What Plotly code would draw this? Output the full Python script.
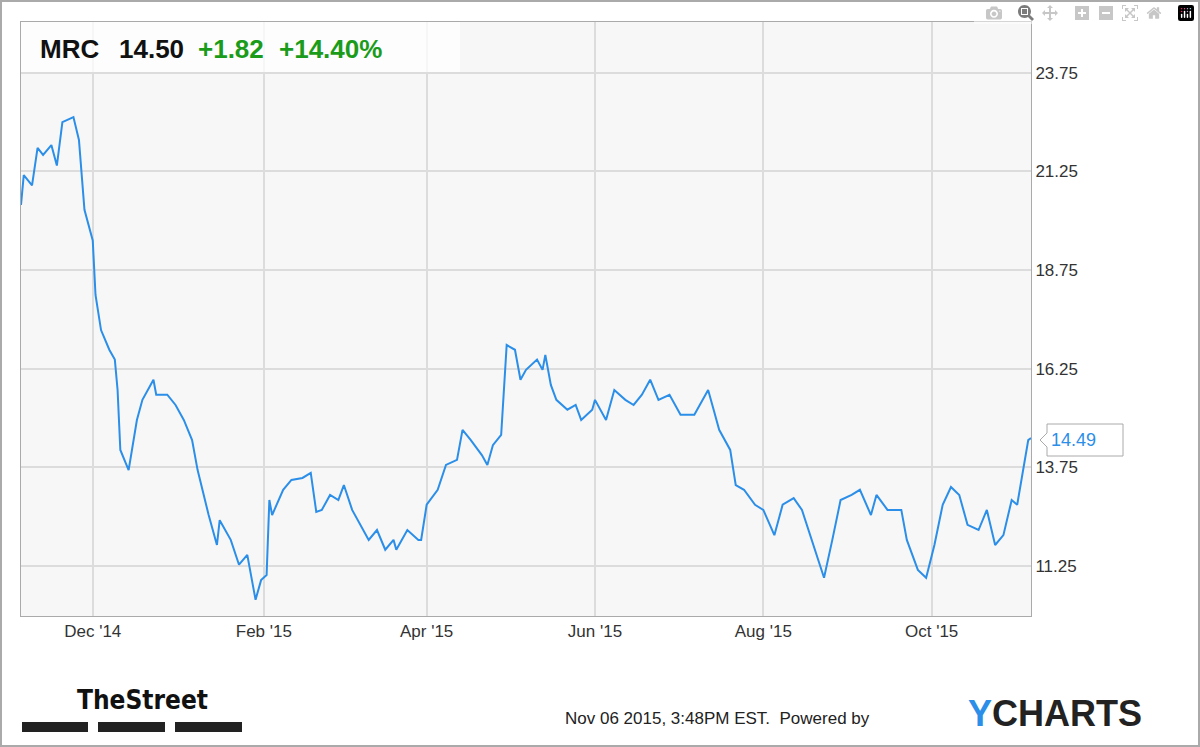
import plotly.graph_objects as go

dates = ["2014-11-05","2014-11-06","2014-11-09","2014-11-11","2014-11-13","2014-11-16","2014-11-18","2014-11-19","2014-11-20","2014-11-24","2014-11-26","2014-11-28",
"2014-12-01","2014-12-02","2014-12-04","2014-12-07","2014-12-09","2014-12-10","2014-12-11","2014-12-14","2014-12-17","2014-12-19","2014-12-23","2014-12-24","2014-12-28","2014-12-31",
"2015-01-03","2015-01-06","2015-01-08","2015-01-12","2015-01-15","2015-01-16","2015-01-20","2015-01-23","2015-01-26","2015-01-29","2015-01-31",
"2015-02-02","2015-02-03","2015-02-04","2015-02-08","2015-02-11","2015-02-15","2015-02-18","2015-02-20","2015-02-22","2015-02-25","2015-02-28",
"2015-03-02","2015-03-05","2015-03-09","2015-03-11","2015-03-14","2015-03-17","2015-03-20","2015-03-21","2015-03-25","2015-03-29","2015-03-30",
"2015-04-01","2015-04-05","2015-04-08","2015-04-12","2015-04-14","2015-04-17","2015-04-21","2015-04-23","2015-04-25","2015-04-28","2015-04-30",
"2015-05-03","2015-05-05","2015-05-07","2015-05-11","2015-05-13","2015-05-14","2015-05-16","2015-05-18","2015-05-22","2015-05-25","2015-05-27","2015-05-31",
"2015-06-01","2015-06-05","2015-06-08","2015-06-12","2015-06-15","2015-06-18","2015-06-21","2015-06-24","2015-06-28",
"2015-07-02","2015-07-07","2015-07-09","2015-07-12","2015-07-14","2015-07-16","2015-07-20","2015-07-22","2015-07-25","2015-07-29",
"2015-08-01","2015-08-05","2015-08-08","2015-08-12","2015-08-15","2015-08-19","2015-08-23","2015-08-26","2015-08-29",
"2015-09-02","2015-09-05","2015-09-09","2015-09-11","2015-09-15","2015-09-20","2015-09-22","2015-09-26","2015-09-29",
"2015-10-02","2015-10-05","2015-10-08","2015-10-11","2015-10-14","2015-10-18","2015-10-21","2015-10-24","2015-10-27","2015-10-30",
"2015-11-01","2015-11-05","2015-11-06"]
prices = [20.40,21.16,20.90,21.85,21.67,21.92,21.40,21.90,22.50,22.63,22.05,20.28,
19.50,18.12,17.23,16.73,16.48,15.71,14.19,13.68,14.95,15.46,15.97,15.59,15.59,15.33,
14.95,14.44,13.68,12.54,11.78,12.41,11.91,11.28,11.53,10.39,10.89,
11.02,12.92,12.54,13.18,13.43,13.48,13.61,12.62,12.67,13.05,12.92,
13.30,12.67,12.16,11.91,12.16,11.66,11.91,11.66,12.16,11.91,11.91,
12.80,13.18,13.81,13.94,14.70,14.44,14.06,13.81,14.31,14.57,16.85,
16.73,15.97,16.22,16.48,16.22,16.60,15.84,15.46,15.21,15.33,14.95,15.21,
15.46,14.95,15.71,15.46,15.33,15.59,15.97,15.46,15.59,
15.08,15.08,15.33,15.71,15.21,14.70,14.19,13.30,13.18,12.80,
12.67,12.03,12.80,12.97,12.67,11.78,10.95,11.91,12.92,
13.05,13.18,12.54,13.05,12.67,12.67,11.91,11.15,10.95,
11.78,12.80,13.25,13.05,12.29,12.16,12.67,11.78,12.03,12.92,
12.80,14.44,14.49]
yticks = [11.25, 13.75, 16.25, 18.75, 21.25, 23.75]
xticks = ["2014-12-01","2015-02-01","2015-04-01","2015-06-01","2015-08-01","2015-10-01"]
xticklabels = ["Dec '14","Feb '15","Apr '15","Jun '15","Aug '15","Oct '15"]

L, R, T, B, W, H = 21, 1031, 22, 616, 1200, 747
def px(x): return (x - L) / (R - L)
def py(y): return (B - y) / (B - T)

fig = go.Figure(go.Scatter(x=dates, y=prices, mode="lines",
                           line=dict(color="#2b8ee8", width=2), hoverinfo="skip"))
font = "Liberation Sans, Arial, sans-serif"
fig.update_layout(
    width=W, height=H, margin=dict(l=L, r=W-R, t=T, b=H-B),
    paper_bgcolor="white", plot_bgcolor="#f7f7f7", showlegend=False,
    font=dict(family=font, size=17, color="#333"),
    xaxis=dict(range=["2014-11-05","2015-11-06"], tickvals=xticks, ticktext=xticklabels,
               showgrid=True, gridcolor="#dcdcdc", gridwidth=2, zeroline=False,
               showline=True, linecolor="#aaa", mirror=True, ticks="", ticklen=0),
    yaxis=dict(range=[9.98, 25.04], side="right", tickvals=yticks, tickformat=".2f",
               showgrid=True, gridcolor="#dcdcdc", gridwidth=2, zeroline=False,
               showline=True, linecolor="#aaa", mirror=True, ticks=""),
)
shapes = [
    dict(type="rect", xref="paper", yref="paper", x0=0, x1=px(460), y0=py(72), y1=1,
         fillcolor="rgba(255,255,255,0.75)", line=dict(width=0), layer="above"),
    dict(type="rect", xref="paper", yref="paper", x0=-(L-1)/(R-L), x1=(W-L-1)/(R-L), y0=-(H-B-1)/(B-T), y1=(B-1)/(B-T),
         fillcolor="rgba(0,0,0,0)", line=dict(color="#aaa", width=2)),
    dict(type="path", xref="paper", yref="paper",
         path=f"M {px(1040)} {py(440)} L {px(1047)} {py(433)} L {px(1047)} {py(424)} L {px(1123)} {py(424)} L {px(1123)} {py(456)} L {px(1047)} {py(456)} L {px(1047)} {py(447)} Z",
         fillcolor="white", line=dict(color="#aaa", width=1)),
]
for x0, x1 in [(22, 88), (98, 165), (175, 242)]:
    shapes.append(dict(type="rect", xref="paper", yref="paper", x0=px(x0), x1=px(x1),
                       y0=py(732), y1=py(722), fillcolor="#222", line=dict(width=0)))
fig.update_layout(shapes=shapes)

ann = [
    dict(x=px(38), y=py(49), text="<b>MRC</b>", font=dict(size=26, color="#111")),
    dict(x=px(117), y=py(49), text="<b>14.50</b>", font=dict(size=26, color="#111")),
    dict(x=px(196), y=py(49), text="<b>+1.82</b>", font=dict(size=26, color="#1a9c1a")),
    dict(x=px(277), y=py(49), text="<b>+14.40%</b>", font=dict(size=26, color="#1a9c1a")),
    dict(x=px(1049), y=py(440), text="14.49", font=dict(size=18, color="#2b8ee8")),
    dict(x=px(75), y=py(700), text="<b>TheStreet</b>", font=dict(size=26, color="#111", family="DejaVu Sans Condensed, Liberation Sans Narrow, sans-serif")),
    dict(x=px(563), y=py(718), text="Nov 06 2015, 3:48PM EST.  Powered by", font=dict(size=17, color="#222")),
    dict(x=px(966), y=py(713), text="<b><span style='color:#2b8ee8'>Y</span>CHARTS</b>", font=dict(size=36, color="#222")),
]
for a in ann:
    a.update(xref="paper", yref="paper", xanchor="left", yanchor="middle", showarrow=False)
fig.update_layout(annotations=ann)
fig.write_html("out.html", post_script="document.body.style.margin='0';")
